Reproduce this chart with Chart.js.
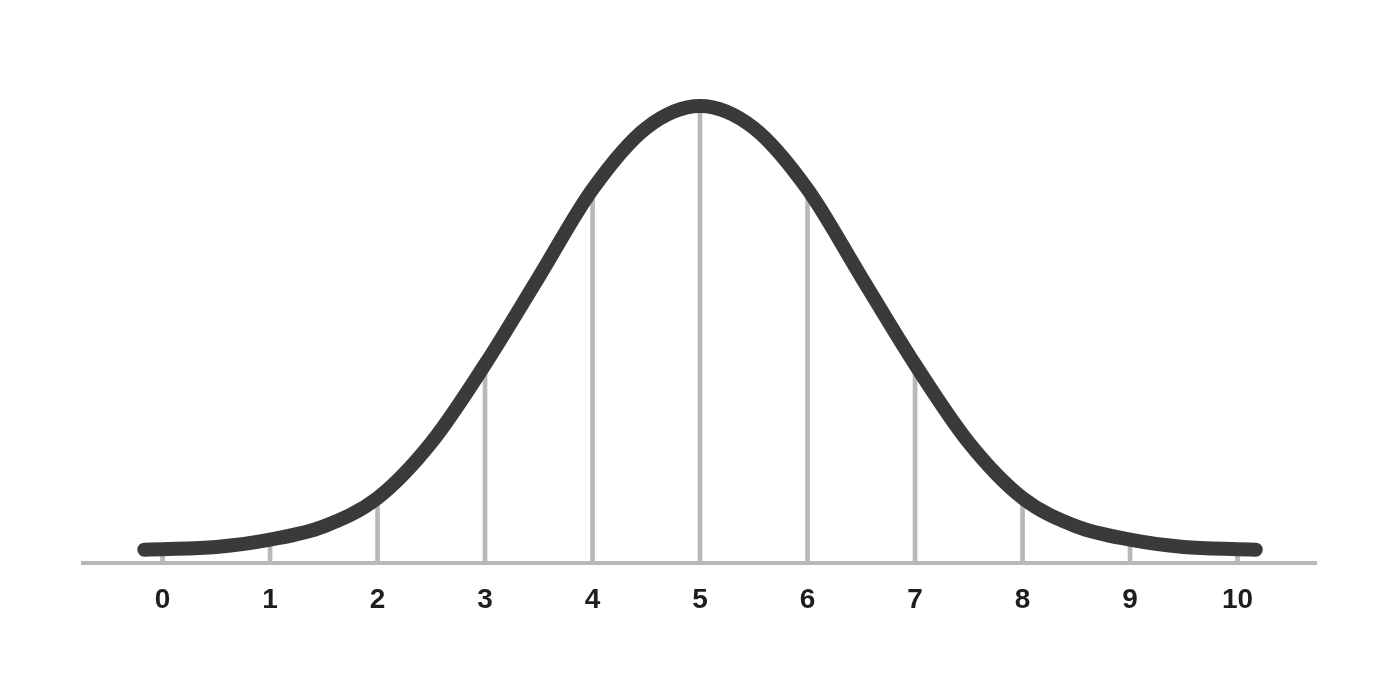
<!DOCTYPE html>
<html>
<head>
<meta charset="utf-8">
<script src="https://cdn.jsdelivr.net/npm/chart.js@4.4.0/dist/chart.umd.min.js"></script>
<style>
  html, body { margin: 0; padding: 0; background: #ffffff; }
  #wrap { width: 1400px; height: 700px; }
</style>
</head>
<body>
<div id="wrap"><canvas id="graph"></canvas></div>
<script>
// ------------ data ------------

// curve samples (x position, height as % of peak)
var curveX = [-0.17, 0, 0.5, 1, 1.5, 2, 2.5, 3, 3.5, 4, 4.5, 5, 5.5, 6, 6.5, 7, 7.5, 8, 8.5, 9, 9.5, 10, 10.17];
var curveY = [3.0, 3.1, 3.6, 5.2, 8.1, 14.3, 26.4, 43.5, 62.6, 81.8, 95.2, 100, 95.2, 81.8, 62.6, 43.5, 26.4, 14.3, 8.1, 5.2, 3.6, 3.1, 3.0];

// gray stems at each integer
var stemX = [0, 1, 2, 3, 4, 5, 6, 7, 8, 9, 10];
var stemY = [3.1, 5.2, 14.3, 43.5, 81.8, 100, 81.8, 43.5, 14.3, 5.2, 3.1];

// tick labels
var tickLabels = ["0", "1", "2", "3", "4", "5", "6", "7", "8", "9", "10"];

// ------------ build points ------------

var curvePts = [];
for (var i = 0; i < curveX.length; i++) {
  curvePts.push({ x: curveX[i], y: curveY[i] });
}

var stemPts = [];
for (var j = 0; j < stemX.length; j++) {
  stemPts.push({ x: stemX[j], y: stemY[j] });
}

// ------------ chart ------------

const ctx = document.getElementById("graph");

const myChart = new Chart(ctx, {
  data: {
    datasets: [
      {
        type: "line",
        data: curvePts,
        borderColor: "#3a3a3a",
        borderWidth: 14,
        borderCapStyle: "round",
        borderJoinStyle: "round",
        cubicInterpolationMode: "monotone",
        pointRadius: 0,
        fill: false,
        clip: false,
      },
      {
        type: "bar",
        data: stemPts,
        backgroundColor: "#b8b8b8",
        barThickness: 4,
        borderWidth: 0,
      },
    ],
  },
  options: {
    responsive: true,
    maintainAspectRatio: false,
    animation: false,
    layout: {
      padding: { top: 106, left: 83, right: 84, bottom: 71 },
    },
    plugins: {
      legend: { display: false },
      tooltip: { enabled: false },
    },
    scales: {
      x: {
        type: "linear",
        offset: false,
        min: -0.74,
        max: 10.73,
        grid: { display: false },
        border: { display: true, color: "#b8b8b8", width: 4 },
        afterBuildTicks: function (axis) {
          axis.ticks = stemX.map(function (v) { return { value: v }; });
        },
        ticks: {
          padding: 12,
          color: "#1e1e1e",
          font: { family: "'Liberation Sans', Arial, sans-serif", size: 28, weight: "bold" },
          callback: function (value, index) { return tickLabels[index]; },
        },
      },
      y: {
        display: false,
        min: 0,
        max: 100,
      },
    },
  },
});
</script>
</body>
</html>
